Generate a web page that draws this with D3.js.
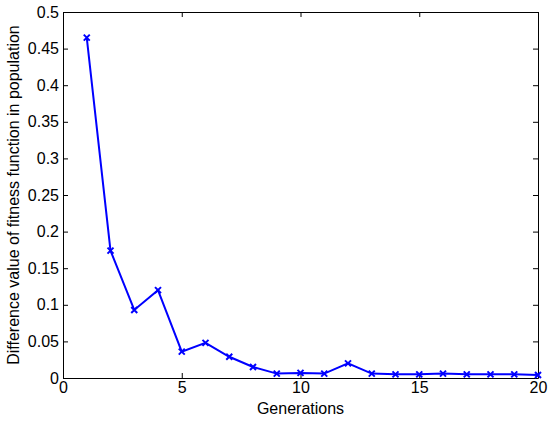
<!DOCTYPE html>
<html><head><meta charset="utf-8">
<script src="https://cdn.jsdelivr.net/npm/d3@7"></script>
<style>body{margin:0;background:#fff}text{font-family:Arial,"Liberation Sans",sans-serif}</style>
</head><body>
<svg id="plot" width="550" height="422"></svg>
<script>
const generations = [1,2,3,4,5,6,7,8,9,10,11,12,13,14,15,16,17,18,19,20]
const values = [0.465,0.174,0.093,0.12,0.036,0.048,0.029,0.015,0.006,0.007,0.006,0.02,0.006,0.005,0.005,0.006,0.005,0.005,0.005,0.004]
const xTicks = [0,5,10,15,20]
const yTicks = [0,0.05,0.1,0.15,0.2,0.25,0.3,0.35,0.4,0.45,0.5]

const margin = { top: 12, right: 12, bottom: 44, left: 63 }
const width = 550, height = 422

const x = d3.scaleLinear().domain([0, 20]).range([margin.left, width - margin.right])
const y = d3.scaleLinear().domain([0, 0.5]).range([height - margin.bottom, margin.top])

const svg = d3.select("#plot")
const fmt = d => String(d)

const styleAxis = g => {
  g.selectAll("text").attr("font-size", 16).attr("fill", "#000")
  g.selectAll("line,path").attr("stroke", "#000")
}

svg.append("g").attr("transform", `translate(0,${height - margin.bottom})`)
  .call(d3.axisBottom(x).tickValues(xTicks).tickFormat(fmt).tickSize(-5).tickPadding(4).tickSizeOuter(0))
  .call(styleAxis)
svg.append("g").attr("transform", `translate(0,${margin.top})`)
  .call(d3.axisTop(x).tickValues(xTicks).tickFormat("").tickSize(-5).tickSizeOuter(0))
  .call(styleAxis)
svg.append("g").attr("transform", `translate(${margin.left},0)`)
  .call(d3.axisLeft(y).tickValues(yTicks).tickFormat(fmt).tickSize(-5).tickPadding(4).tickSizeOuter(0))
  .call(styleAxis)
svg.append("g").attr("transform", `translate(${width - margin.right},0)`)
  .call(d3.axisRight(y).tickValues(yTicks).tickFormat("").tickSize(-5).tickSizeOuter(0))
  .call(styleAxis)

svg.append("text").attr("x", (x(0) + x(20)) / 2).attr("y", 414)
  .attr("text-anchor", "middle").attr("font-size", 16).text("Generations")
svg.append("text").attr("transform", `translate(19,${(y(0) + y(0.5)) / 2}) rotate(-90)`)
  .attr("text-anchor", "middle").attr("font-size", 16).text("Difference value of fitness function in population")

const data = generations.map((g, i) => ({ g, v: values[i] }))
const line = d3.line().x(d => x(d.g)).y(d => y(d.v))
svg.append("path").datum(data).attr("fill", "none").attr("stroke", "#0000ff")
  .attr("stroke-width", 2).attr("d", line)
svg.append("g").selectAll("path").data(data).join("path")
  .attr("d", d => { const px = x(d.g), py = y(d.v), s = 3; return `M${px-s},${py-s}L${px+s},${py+s}M${px-s},${py+s}L${px+s},${py-s}` })
  .attr("stroke", "#0000ff").attr("stroke-width", 2)
</script>
</body></html>
